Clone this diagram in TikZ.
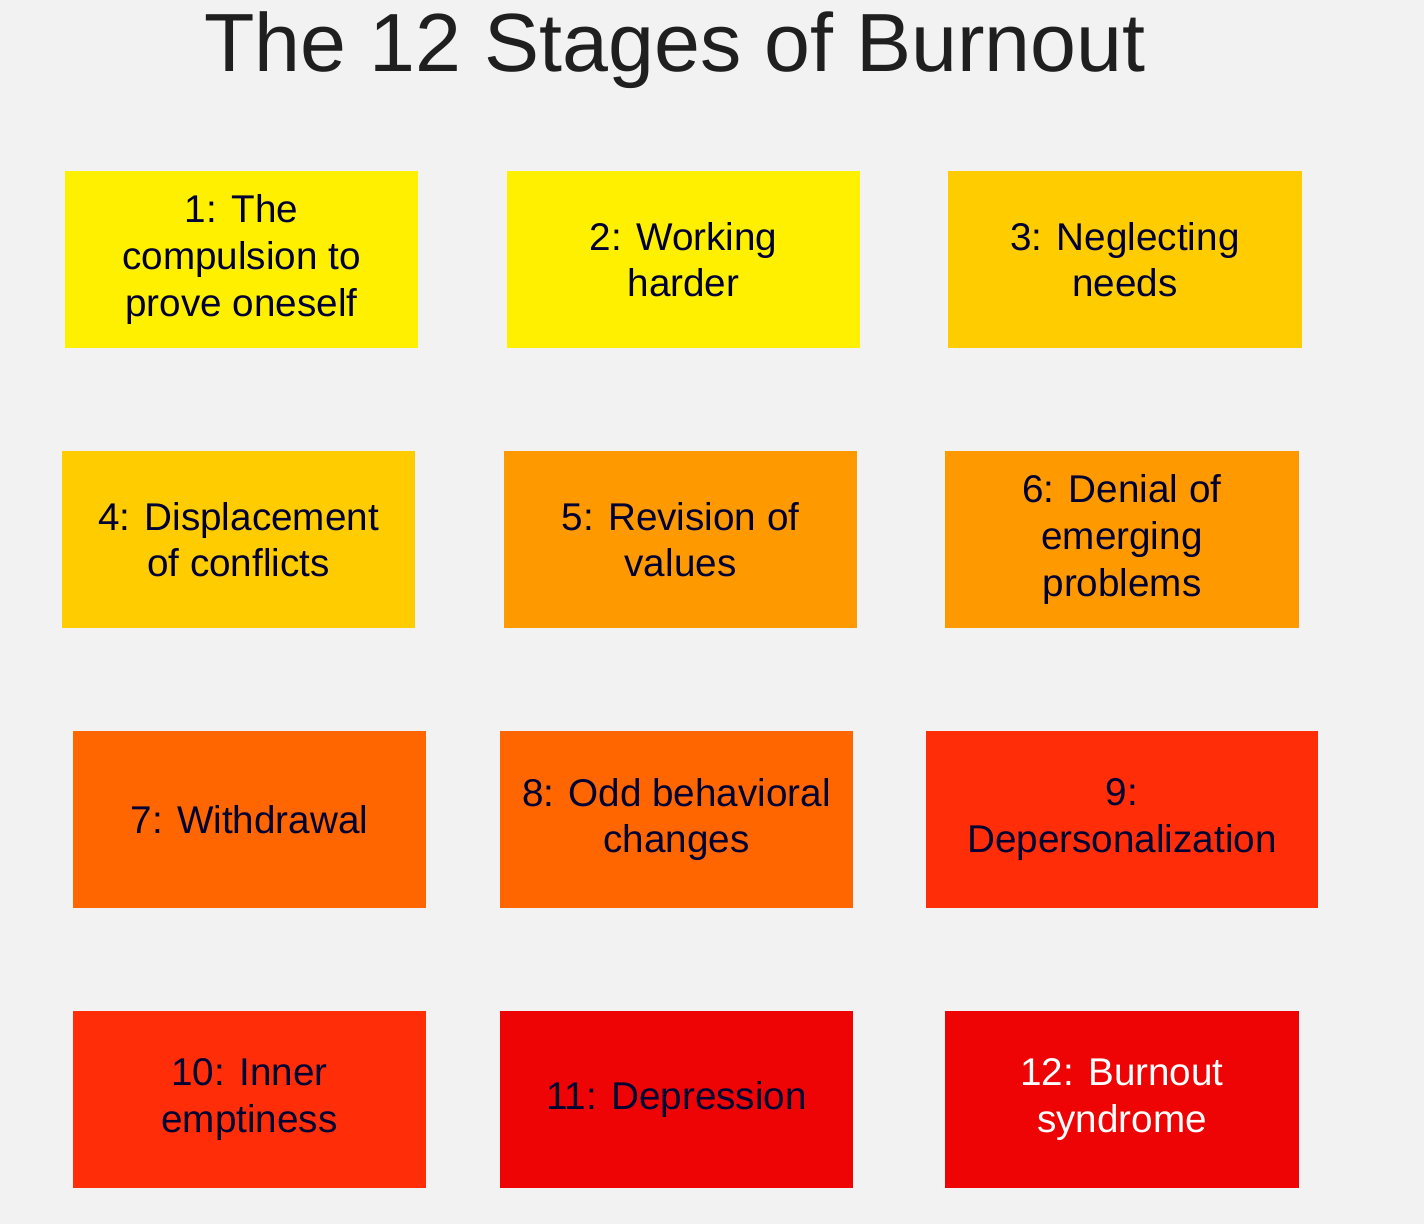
\documentclass[tikz,border=0pt]{standalone}
\usepackage{fontspec}
\setmainfont{Liberation Sans}
\definecolor{bg}{HTML}{F2F2F2}
\definecolor{cA}{HTML}{FFF000}
\definecolor{cB}{HTML}{FFCC00}
\definecolor{cC}{HTML}{FF9900}
\definecolor{cD}{HTML}{FF6600}
\definecolor{cE}{HTML}{FF2E08}
\definecolor{cF}{HTML}{EE0404}
\definecolor{tx}{HTML}{000033}
\begin{document}
\begin{tikzpicture}[x=0.02cm,y=-0.02cm,
  stage/.style={inner sep=0pt,align=center,text=tx,
    font=\fontsize{22}{26.5}\selectfont,minimum height=177*0.02cm}]
\fill[bg] (0,0) rectangle (1424,1224);
\useasboundingbox (0,0) rectangle (1424,1224);
\node[font=\fontsize{47}{56}\selectfont,text=black!88] (title) at (675,50) {The 12 Stages of Burnout};
\newcommand{\stg}[7]{\node[stage,fill=#6,minimum width=#3*0.02cm,#7] (#1) at (#2,#4) {#5};}
\stg{s1}{241.5}{353}{259.5}{1: The\\compulsion to\\prove oneself}{cA}{}
\stg{s2}{683.5}{353}{259.5}{2: Working\\harder}{cA}{}
\stg{s3}{1125}{354}{259.5}{3: Neglecting\\needs}{cB}{}
\stg{s4}{238.5}{353}{539.5}{4: Displacement\\of conflicts}{cB}{}
\stg{s5}{680.5}{353}{539.5}{5: Revision of\\values}{cC}{}
\stg{s6}{1122}{354}{539.5}{6: Denial of\\emerging\\problems}{cC}{}
\stg{s7}{249.5}{353}{819.5}{7: Withdrawal}{cD}{}
\stg{s8}{676.5}{353}{819.5}{8: Odd behavioral\\changes}{cD}{}
\stg{s9}{1122}{392}{819.5}{9:\\Depersonalization}{cE}{}
\stg{s10}{249.5}{353}{1099.5}{10: Inner\\emptiness}{cE}{}
\stg{s11}{676.5}{353}{1099.5}{11: Depression}{cF}{}
\stg{s12}{1122}{354}{1099.5}{12: Burnout\\syndrome}{cF}{text=white}
\end{tikzpicture}
\end{document}
